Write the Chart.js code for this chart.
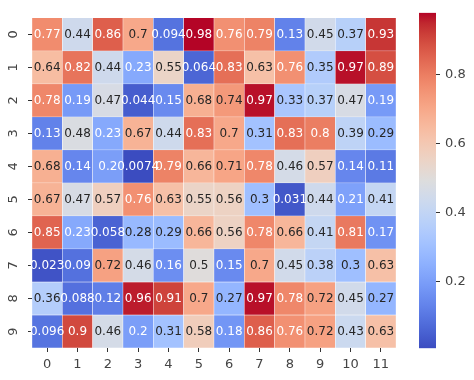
<!DOCTYPE html>
<html>
<head>
<meta charset="utf-8">
<script src="https://cdn.jsdelivr.net/npm/chart.js@4.4.1/dist/chart.umd.min.js"></script>
<style>
  html, body { margin: 0; padding: 0; background: #ffffff; }
  #wrap { position: relative; width: 474px; height: 380px; }
  #main { position: absolute; left: 0; top: 0; }
  #cbar { position: absolute; left: 400px; top: 0; }
</style>
</head>
<body>
<div id="wrap">
  <canvas id="main" width="410" height="380"></canvas>
  <canvas id="cbar" width="74" height="380"></canvas>
</div>
<script>
// ---- data ----
const colLabels = ['0','1','2','3','4','5','6','7','8','9','10','11'];
const rowLabels = ['0','1','2','3','4','5','6','7','8','9'];
const row0 = [0.77, 0.44, 0.86, 0.7, 0.094, 0.98, 0.76, 0.79, 0.13, 0.45, 0.37, 0.93];
const row1 = [0.64, 0.82, 0.44, 0.23, 0.55, 0.064, 0.83, 0.63, 0.76, 0.35, 0.97, 0.89];
const row2 = [0.78, 0.19, 0.47, 0.044, 0.15, 0.68, 0.74, 0.97, 0.33, 0.37, 0.47, 0.19];
const row3 = [0.13, 0.48, 0.23, 0.67, 0.44, 0.83, 0.7, 0.31, 0.83, 0.8, 0.39, 0.29];
const row4 = [0.68, 0.14, 0.2, 0.0074, 0.79, 0.66, 0.71, 0.78, 0.46, 0.57, 0.14, 0.11];
const row5 = [0.67, 0.47, 0.57, 0.76, 0.63, 0.55, 0.56, 0.3, 0.031, 0.44, 0.21, 0.41];
const row6 = [0.85, 0.23, 0.058, 0.28, 0.29, 0.66, 0.56, 0.78, 0.66, 0.41, 0.81, 0.17];
const row7 = [0.023, 0.09, 0.72, 0.46, 0.16, 0.5, 0.15, 0.7, 0.45, 0.38, 0.3, 0.63];
const row8 = [0.36, 0.088, 0.12, 0.96, 0.91, 0.7, 0.27, 0.97, 0.78, 0.72, 0.45, 0.27];
const row9 = [0.096, 0.9, 0.46, 0.2, 0.31, 0.58, 0.18, 0.86, 0.76, 0.72, 0.43, 0.63];
const rows = [row0, row1, row2, row3, row4, row5, row6, row7, row8, row9];
const colorbarTicks = [0.2, 0.4, 0.6, 0.8];

// ---- coolwarm colormap (Moreland) ----
const cw = [
 [59,76,192],[68,90,204],[77,104,215],[87,117,225],[98,130,234],[108,142,241],[119,154,247],[130,165,251],
 [141,176,254],[152,185,255],[163,194,255],[174,201,253],[184,208,249],[194,213,244],[204,217,238],[213,219,230],
 [221,221,221],[229,216,209],[236,211,197],[241,204,185],[245,196,173],[247,187,160],[247,177,148],[247,166,135],
 [244,154,123],[241,141,111],[236,127,99],[229,112,88],[222,96,77],[213,80,66],[203,62,56],[192,40,47],[180,4,38]
];
function cmap(t) {
  t = Math.max(0, Math.min(1, t));
  const p = t * (cw.length - 1);
  const i = Math.min(cw.length - 2, Math.floor(p));
  const f = p - i;
  return cw[i].map((v, k) => v + (cw[i + 1][k] - v) * f);
}
const allVals = rows.flat();
const vmin = Math.min(...allVals), vmax = Math.max(...allVals);
function colorOf(v) {
  const c = cmap((v - vmin) / (vmax - vmin));
  return 'rgb(' + c.map(x => Math.round(x)).join(',') + ')';
}
function luminance(v) {
  const c = cmap((v - vmin) / (vmax - vmin)).map(x => {
    x /= 255;
    return x <= 0.03928 ? x / 12.92 : Math.pow((x + 0.055) / 1.055, 2.4);
  });
  return 0.2126 * c[0] + 0.7152 * c[1] + 0.0722 * c[2];
}

Chart.defaults.font.family = "'DejaVu Sans', sans-serif";
Chart.defaults.color = '#444';
Chart.defaults.animation = false;

const datasets = rows.map((r, ri) => ({
  label: rowLabels[ri],
  data: r.map(() => [ri, ri + 1]),
  backgroundColor: r.map(colorOf),
  borderColor: '#ffffff',
  borderWidth: 0.5,
  borderSkipped: false,
  barPercentage: 1,
  categoryPercentage: 1,
  grouped: false
}));

const annot = {
  id: 'annot',
  afterDatasetsDraw(chart) {
    const ctx = chart.ctx;
    const xs = chart.scales.x, ys = chart.scales.y;
    ctx.save();
    ctx.font = "12px 'DejaVu Sans'";
    ctx.textAlign = 'center';
    ctx.textBaseline = 'middle';
    rows.forEach((r, ri) => {
      r.forEach((v, ci) => {
        ctx.fillStyle = luminance(v) > 0.408 ? '#262626' : '#ffffff';
        ctx.fillText(String(v), xs.getPixelForValue(ci), ys.getPixelForValue(ri + 0.5) + 0.5);
      });
    });
    ctx.restore();
  }
};

new Chart(document.getElementById('main'), {
  type: 'bar',
  data: { labels: colLabels, datasets },
  options: {
    responsive: false,
    maintainAspectRatio: false,
    layout: { padding: { left: 0, right: 14, top: 10, bottom: 0 } },
    plugins: { legend: { display: false }, tooltip: { enabled: false } },
    scales: {
      x: {
        type: 'category',
        offset: true,
        grid: { display: true, offset: false, drawOnChartArea: false, drawTicks: true, tickLength: 4, color: '#333' },
        border: { display: false },
        ticks: { font: { size: 13 }, color: '#444', padding: 5, maxRotation: 0, autoSkip: false },
        afterFit(s) { s.height = 32; }
      },
      y: {
        type: 'linear',
        min: 0, max: 10,
        reverse: true,
        grid: { display: true, drawOnChartArea: false, drawTicks: true, tickLength: 4, color: '#333' },
        border: { display: false },
        afterBuildTicks(s) { s.ticks = rowLabels.map((l, i) => ({ value: i + 0.5 })); },
        ticks: {
          font: { size: 13 }, color: '#444', padding: 10,
          minRotation: 90, maxRotation: 90, crossAlign: 'center',
          callback: (v) => rowLabels[Math.round(v - 0.5)]
        },
        afterFit(s) { s.width = 32; }
      }
    }
  },
  plugins: [annot]
});

function gradientFill(context) {
  const chart = context.chart;
  const area = chart.chartArea;
  if (!area) return 'rgb(221,221,221)';
  const g = chart.ctx.createLinearGradient(0, area.bottom, 0, area.top);
  cw.forEach((c, i) => g.addColorStop(i / (cw.length - 1), 'rgb(' + c.join(',') + ')'));
  return g;
}

new Chart(document.getElementById('cbar'), {
  type: 'bar',
  data: { labels: [''], datasets: [{ data: [[vmin, vmax]], backgroundColor: gradientFill, borderWidth: 0, barPercentage: 1, categoryPercentage: 1 }] },
  options: {
    responsive: false,
    maintainAspectRatio: false,
    layout: { padding: { left: 19, right: 0, top: 10, bottom: 31.7 } },
    plugins: { legend: { display: false }, tooltip: { enabled: false } },
    scales: {
      x: { display: false },
      y: {
        position: 'right',
        min: vmin, max: vmax,
        grid: { display: true, drawOnChartArea: false, drawTicks: true, tickLength: 4, color: '#333' },
        border: { display: false },
        afterBuildTicks(s) { s.ticks = colorbarTicks.map(v => ({ value: v })); },
        ticks: { font: { size: 13 }, color: '#444', padding: 5, callback: (v) => String(v) },
        afterFit(s) { s.width = 38; }
      }
    }
  }
});
</script>
</body>
</html>
